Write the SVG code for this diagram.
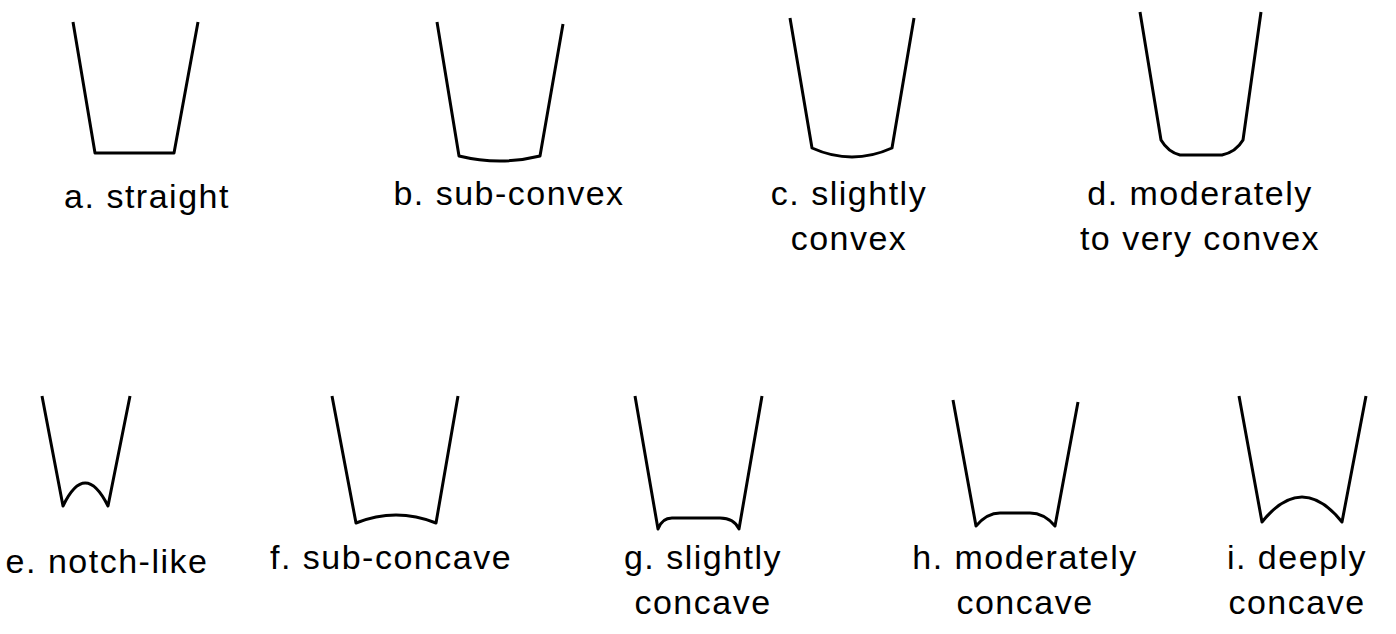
<svg xmlns="http://www.w3.org/2000/svg" width="1396" height="634" viewBox="0 0 1396 634">
<style>
path{fill:none;stroke:#000;stroke-width:3;stroke-linejoin:round}
text{font-family:"Liberation Sans",Arial,sans-serif;font-size:34px;letter-spacing:1.5px;text-anchor:middle;fill:#000}
</style>
<rect width="1396" height="634" fill="#fff"/>
<g id="a"><path d="M73,22 L95,153 L174,153 L198,22"/><text x="147" y="208">a. straight</text></g>
<g id="b"><path d="M437,22 L459,156 Q500,166 540,156 L563,24"/><text x="509" y="205">b. sub-convex</text></g>
<g id="c"><path d="M790,18 L812,148 Q852,166 892,148 L914,18"/><text x="849" y="205">c. slightly</text><text x="849" y="250">convex</text></g>
<g id="d"><path d="M1140,12 L1161,140 Q1168,152 1180,155 L1222,155 Q1236,152 1243,140 L1261,12"/><text x="1200" y="205">d. moderately</text><text x="1200" y="250">to very convex</text></g>
<g id="e"><path d="M42,396 L63,506 Q85,460 108,506 L130,396"/><text x="107" y="573">e. notch-like</text></g>
<g id="f"><path d="M332,396 L356,523 Q396,507 436,523 L458,396"/><text x="391" y="569">f. sub-concave</text></g>
<g id="g"><path d="M635,396 L658,529 Q662,518 672,518 L720,518 Q734,518 739,529 L762,396"/><text x="703" y="569">g. slightly</text><text x="703" y="614">concave</text></g>
<g id="h"><path d="M953,400 L976,526 Q987,513 1000,513 L1030,513 Q1044,513 1055,526 L1078,402"/><text x="1025" y="569">h. moderately</text><text x="1025" y="614">concave</text></g>
<g id="i"><path d="M1239,396 L1262,522 Q1302,472 1342,522 L1366,396"/><text x="1297" y="569">i. deeply</text><text x="1297" y="614">concave</text></g>
<g id="connectors"/>
</svg>
